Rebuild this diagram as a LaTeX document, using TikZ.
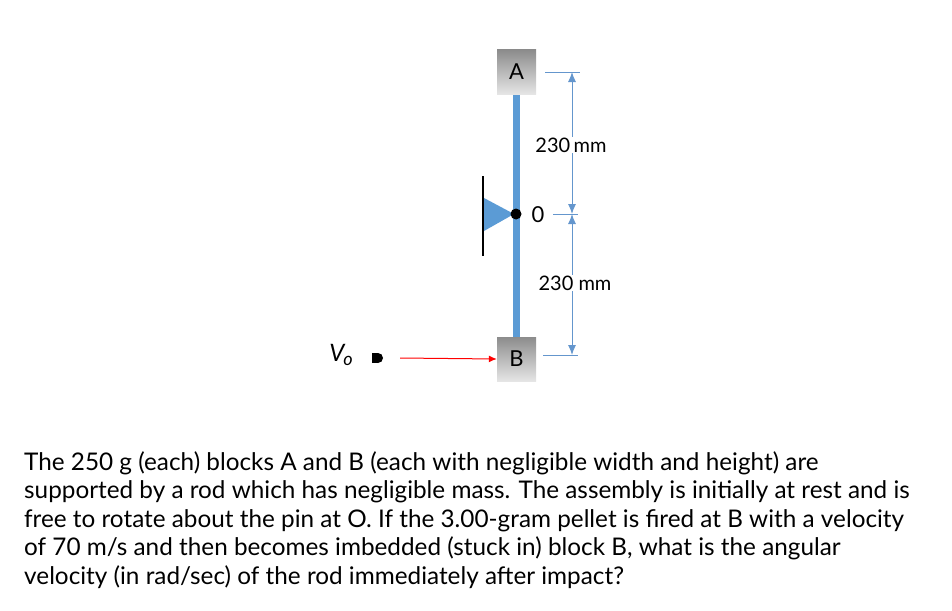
\documentclass[tikz,border=0pt]{standalone}
\usepackage{fontspec}
\setmainfont{Lato}
\usetikzlibrary{arrows.meta}
\definecolor{rodblue}{RGB}{91,155,213}
\definecolor{dimblue}{RGB}{100,150,205}
\tikzset{
  blk/.style={minimum width=39pt,minimum height=44pt,inner sep=0pt,top color=gray!90,bottom color=gray!20,font=\fontsize{22}{22}\selectfont},
  dim/.style={draw=dimblue,line width=1pt},
  dimarr/.style={dim,-{Latex[length=10pt,width=8pt]}},
  lbl/.style={font=\fontsize{20}{20}\selectfont,inner sep=1pt,fill=white}
}
\begin{document}
\begin{tikzpicture}[x=1pt,y=-1pt]
\useasboundingbox (0,0) rectangle (952,610);
\fill[rodblue] (513,90) rectangle (520,340);
\node[blk] (A) at (516.5,72) {A};
\node[blk] (B) at (516.5,359) {B};
\draw[black,line width=2pt] (483,176) -- (483,256);
\fill[rodblue] (484,198) -- (514,214) -- (484,231) -- cycle;
\fill[black] (516,214) circle (5.5pt);
\coordinate (O) at (516,214);
\node[font=\fontsize{22}{22}\selectfont] (Ol) at (538,215) {0};
% dimensions
\coordinate (a1) at (545,72); \coordinate (a2) at (580,72);
\coordinate (o1) at (553,214); \coordinate (o2) at (578,214);
\coordinate (b1) at (543,355); \coordinate (b2) at (578,355);
\draw[dim] (a1) -- (a2); \draw[dim] (o1) -- (o2); \draw[dim] (b1) -- (b2);
\coordinate (da) at (572,72); \coordinate (do) at (572,214); \coordinate (db) at (572,355);
\draw[dimarr] (572,140) -- (da);
\draw[dimarr] (572,150) -- (do);
\draw[dimarr] (572,275) -- (do);
\draw[dimarr] (572,290) -- (db);
\node[lbl] (l1) at (571,145) {230\,mm};
\node[lbl] (l2) at (575,283) {230 mm};
% pellet
\node[font=\fontsize{24}{24}\selectfont\itshape] (V) at (341,355) {V\kern-1pt\raisebox{-4pt}{\fontsize{18}{18}\selectfont o}};
\fill[black] (372,353) rectangle (378,363);
\fill[black] (378,358) circle (5);
\coordinate (p) at (400,358);
\draw[red,line width=1pt,-{Latex[length=8pt,width=7pt]}] (p) -- (B.west);
\node[anchor=north west,align=left,inner sep=0pt,font=\fontsize{24.3}{28.6}\selectfont] (T) at (24,451) {The 250 g (each) blocks A and B (each with negligible width and height) are\\supported by a rod which has negligible mass. The assembly is initially at rest and is\\free to rotate about the pin at O. If the 3.00-gram pellet is fired at B with a velocity\\of 70 m/s and then becomes imbedded (stuck in) block B, what is the angular\\velocity (in rad/sec) of the rod immediately after impact?};
\end{tikzpicture}
\end{document}
